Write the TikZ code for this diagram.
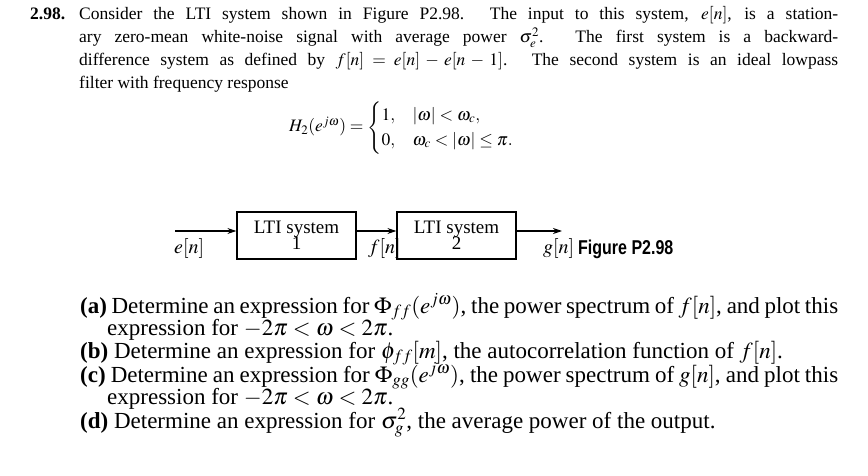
\documentclass[tikz,border=0pt]{standalone}
\usepackage{amsmath}
\usepackage{mathptmx}
\usepackage{fontspec}
\setmainfont{Liberation Serif}
\newfontfamily\figfont{Liberation Sans}[FakeStretch=0.8]
\usetikzlibrary{arrows.meta}
\begin{document}
\begin{tikzpicture}[x=1pt,y=-1pt,font=\fontsize{17.5}{21}\selectfont,
  txt/.style={anchor=base west,inner sep=0pt},
  part/.style={txt,font=\fontsize{23}{26}\selectfont},
  blk/.style={draw,line width=1.2pt,minimum width=119pt,minimum height=47pt,inner sep=0pt},
  sig/.style={line width=1.1pt,-{Stealth[length=9pt,width=6pt]}}]
\useasboundingbox (0,0) rectangle (868,476);
\node[txt] (l0) at (30,20) {\textbf{2.98.}};
\node[txt] (l1) at (79,20) {\makebox[759pt][s]{Consider the LTI system shown in Figure P2.98. The input to this system, $e[n]$, is a station-}};
\node[txt] (l2) at (79,43) {\makebox[759pt][s]{ary zero-mean white-noise signal with average power $\sigma_e^2$. The first system is a backward-}};
\node[txt] (l3) at (79,66) {\makebox[759pt][s]{difference system as defined by $f[n]=e[n]-e[n-1]$. The second system is an ideal lowpass}};
\node[txt] (l4) at (79,89) {filter with frequency response};
\node[txt] (eq) at (289,132) {$H_2(e^{j\omega})=\begin{cases}1, & |\omega|<\omega_c,\\ 0, & \omega_c<|\omega|\le\pi.\end{cases}$};
\node[blk] (b1) at (296.5,235.5) {};
\node[blk] (b2) at (456.5,235.5) {};
\node[font=\fontsize{19}{19}\selectfont,align=center] at (b1) {LTI system\\[-3pt]1};
\node[font=\fontsize{19}{19}\selectfont,align=center] at (b2) {LTI system\\[-3pt]2};
\coordinate (in) at (175,231);
\coordinate (out) at (562,231);
\draw[sig] (in) -- (in -| b1.west);
\draw[sig] (b1.east |- in) -- (b2.west |- in);
\draw[sig] (b2.east |- in) -- (out);
\node[txt,font=\fontsize{20}{22}\selectfont] (e) at (174,253) {$e[n]$};
\node[txt,font=\fontsize{20}{22}\selectfont] (f) at (368,253) {$f[n]$};
\node[txt,font=\fontsize{20}{22}\selectfont] (g) at (543,253) {$g[n]$};
\node[txt,font=\figfont\bfseries\fontsize{20}{22}\selectfont] (fig) at (578,254) {Figure P2.98};
\node[part] (a1) at (80,313) {\makebox[758pt][s]{\textbf{(a)} Determine an expression for $\Phi_{ff}(e^{j\omega})$, the power spectrum of $f[n]$, and plot this}};
\node[part] (a2) at (107,335) {expression for $-2\pi<\omega<2\pi$.};
\node[part] (b) at (80,358) {\textbf{(b)} Determine an expression for $\phi_{ff}[m]$, the autocorrelation function of $f[n]$.};
\node[part] (c1) at (80,382) {\makebox[758pt][s]{\textbf{(c)} Determine an expression for $\Phi_{gg}(e^{j\omega})$, the power spectrum of $g[n]$, and plot this}};
\node[part] (c2) at (107,404) {expression for $-2\pi<\omega<2\pi$.};
\node[part] (d) at (80,428) {\textbf{(d)} Determine an expression for $\sigma_g^2$, the average power of the output.};
\end{tikzpicture}
\end{document}
